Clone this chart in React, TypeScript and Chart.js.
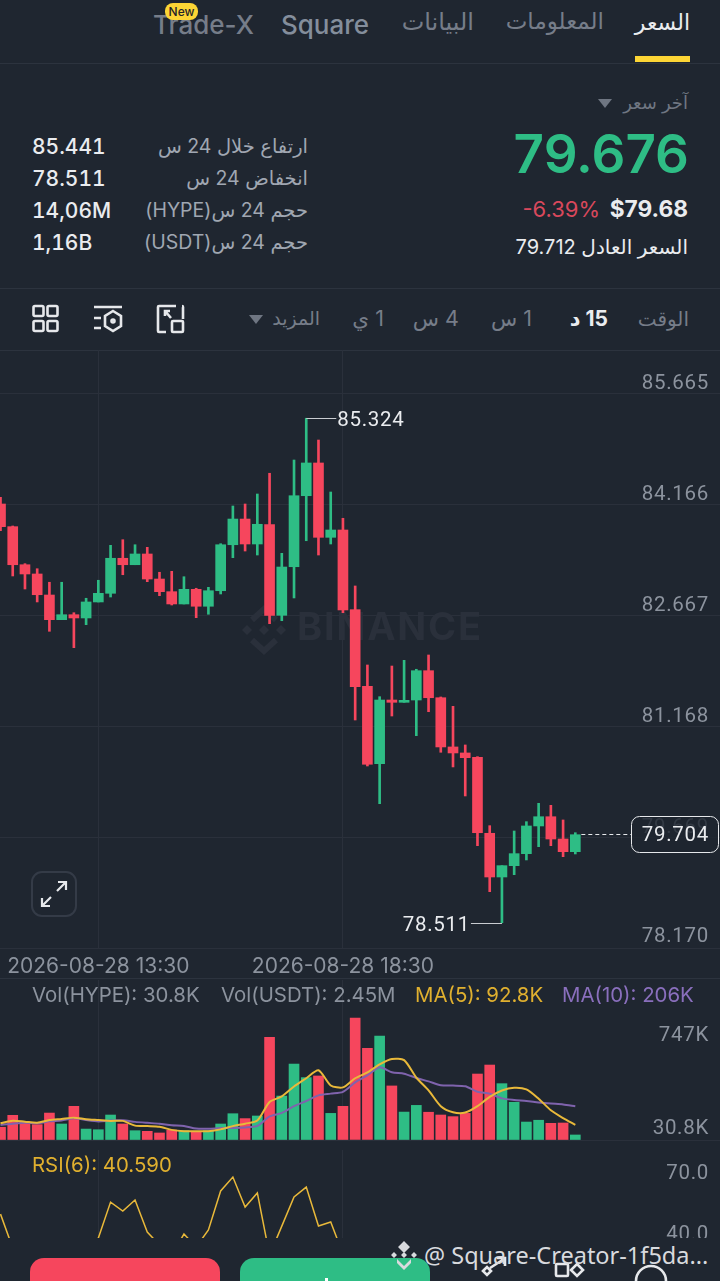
import React, { useEffect, useRef } from "react";
import { Chart, registerables } from "chart.js";

Chart.register(...registerables);

// ---------- data ----------
const OPENS = [84.166,83.86,83.346,83.221,82.937,82.604,82.671,82.627,82.843,82.96,83.433,83.346,83.491,83.153,82.982,82.816,83.014,82.785,82.995,83.616,83.963,83.626,83.887,82.663,83.319,84.278,84.72,83.716,83.815,82.739,81.704,80.659,81.519,81.488,81.519,81.915,81.55,80.885,80.804,80.745,79.719,79.129,79.282,79.444,79.818,79.943,79.642,79.471];
const CLOSES = [83.86,83.346,83.221,82.941,82.604,82.671,82.627,82.843,82.96,83.433,83.346,83.491,83.153,82.982,82.816,83.014,82.785,82.995,83.616,83.963,83.626,83.892,82.663,83.315,84.278,84.72,83.716,83.815,82.735,81.699,80.651,81.519,81.488,81.515,81.915,81.55,80.885,80.804,80.74,79.727,79.129,79.282,79.444,79.818,79.943,79.642,79.471,79.7];
const HIGHS = [84.257,83.869,83.36,83.292,83.109,83.109,82.698,82.893,83.136,83.608,83.684,83.616,83.581,83.244,83.257,83.184,83.028,83.041,83.63,84.139,84.166,84.301,84.581,83.5,84.76,85.324,85.03,84.328,83.973,83.059,81.992,81.564,81.978,82.055,81.934,82.127,81.56,81.434,80.912,80.754,79.822,79.282,79.75,79.876,80.124,80.097,79.899,79.727];
const LOWS = [83.805,83.194,83.018,82.843,82.447,82.604,82.226,82.536,82.843,82.91,83.211,83.346,83.117,82.928,82.802,82.816,82.631,82.677,82.951,83.441,83.531,83.477,82.55,82.59,82.897,83.67,83.477,83.626,82.698,81.249,80.628,80.119,81.303,81.488,81.037,81.361,80.813,80.615,80.223,79.552,78.931,78.511,79.16,79.359,79.538,79.552,79.403,79.44];
const VOLUMES = [78,151,112,94,165,98,206,67,63,153,98,57,53,43,61,57,51,57,98,161,131,147,629,269,465,382,392,163,206,747,561,637,331,171,212,170,153,143,163,404,459,345,231,110,121,102,104,30.8];
const MA5 = [102,118,112,106,122,129,137,127,122,117,117,88,85,81,62,54,53,54,65,85,100,119,233,267,328,378,427,334,322,378,414,463,496,489,382,304,207,170,168,207,264,303,320,310,253,182,134,92.8];
const MA10 = [92,100,106,102,114,120,133,122,114,119,121,111,105,100,90,86,70,69,73,74,77,86,144,166,207,239,273,284,295,353,396,445,415,406,380,359,335,333,329,295,284,255,245,239,230,223,218,206];
const RSI = [55.2,38.5,34,32,30,36,33,38,43.4,61.1,56.7,62.1,46.4,40,35,45.4,39,47.4,66.6,73.4,58.7,65.6,35,49.3,63.6,68.5,49.3,51.3,35.6,28,24,33,34,35,36,35,30,29,28,22,20,26,30,36,40,37,35,40.59];
const PRICE_TICKS = [85.665, 84.166, 82.667, 81.168, 79.669];
const PRICE_BOTTOM_TICK = [78.17];
const TIME_TICK_INDEX = [8, 28];
const TIME_TICK_LABELS = ["2026-08-28 13:30", "2026-08-28 18:30"];
const VOL_TOP_TICK = [747];
const VOL_BOTTOM_TICKS = [0, 30.8];
const RSI_TICKS = [70, 40];
const LAST_PRICE = 79.704;

// ---------- style ----------
const BG = "#1f2630";
const GRID = "#2a303b";
const GREEN = "#2ebd85";
const RED = "#f6465d";
const WHITE = "#eaecef";
const YELLOW = "#e9b93a";
const PURPLE = "#7f63ad";
const FONT = 'Inter, "Noto Sans", "DejaVu Sans", sans-serif';

const XMIN = -0.041;
const XMAX = 58.83;
const idx = OPENS.map((_, i) => i);
const colors = idx.map((i) => (CLOSES[i] >= OPENS[i] ? GREEN : RED));

function spaced(scale: any, spacing: string) {
  if (scale.__spaced) return;
  scale.__spaced = true;
  const orig = scale.drawLabels;
  scale.drawLabels = function (area: any) {
    const ctx = this.ctx;
    ctx.save();
    ctx.letterSpacing = spacing;
    orig.call(this, area);
    ctx.restore();
  };
}

function xScale(showLabels: boolean) {
  return {
    type: "linear",
    min: XMIN,
    max: XMAX,
    offset: false,
    afterBuildTicks: (s: any) => {
      s.ticks = TIME_TICK_INDEX.map((value) => ({ value }));
    },
    afterFit: (s: any) => {
      s.height = showLabels ? 32 : 0;
      s.paddingLeft = 0;
      s.paddingRight = 0;
    },
    grid: { color: GRID, lineWidth: 1, drawTicks: false, offset: false },
    border: { display: false },
    ticks: {
      display: showLabels,
      autoSkip: false,
      maxRotation: 0,
      padding: 6,
      color: "#8c939e",
      font: { family: "Inter", size: 21 },
      callback: (v: number) => TIME_TICK_LABELS[TIME_TICK_INDEX.indexOf(v)] ?? "",
    },
  };
}

function yAxis(min: number, max: number, ticks: number[], labelOffset: number, grid: boolean, fmt: (v: number) => string) {
  return {
    type: "linear",
    position: "right",
    min,
    max,
    afterBuildTicks: (s: any) => {
      s.ticks = ticks.map((value) => ({ value }));
    },
    afterFit: (s: any) => {
      s.width = 0;
      s.paddingTop = 0;
      s.paddingBottom = 0;
      spaced(s, "0.7px");
    },
    grid: { color: (c: any) => (grid && c.tick && c.tick.value !== 30.8 ? GRID : "rgba(0,0,0,0)"), drawTicks: false },
    border: { display: false },
    ticks: { mirror: true, padding: -11, labelOffset, color: "#8c939e", font: { family: "Roboto", size: 20.5 }, callback: fmt },
  };
}

const baseOptions = {
  animation: false,
  responsive: false,
  layout: { padding: 0, autoPadding: false },
  plugins: { legend: { display: false }, tooltip: { enabled: false } },
  events: [],
};

const watermark = {
  id: "watermark",
  beforeDatasetsDraw(chart: any) {
    const { ctx } = chart;
    ctx.save();
    ctx.fillStyle = "#2a303b";
    const diamond = (cx: number, cy: number, r: number) => {
      ctx.beginPath();
      ctx.moveTo(cx, cy - r);
      ctx.lineTo(cx + r, cy);
      ctx.lineTo(cx, cy + r);
      ctx.lineTo(cx - r, cy);
      ctx.closePath();
      ctx.fill();
    };
    const cy = 628 - 350 + 2;
    diamond(264, cy, 5);
    diamond(247, cy, 5);
    diamond(281, cy, 5);
    ctx.lineWidth = 6;
    ctx.strokeStyle = "#2a303b";
    ctx.beginPath();
    ctx.moveTo(252, cy - 10);
    ctx.lineTo(264, cy - 21);
    ctx.lineTo(276, cy - 10);
    ctx.moveTo(252, cy + 10);
    ctx.lineTo(264, cy + 21);
    ctx.lineTo(276, cy + 10);
    ctx.stroke();
    ctx.font = "bold 38px Inter, sans-serif";
    ctx.letterSpacing = "1.8px";
    ctx.textBaseline = "middle";
    ctx.textAlign = "left";
    ctx.fillText("BINANCE", 297, cy - 1);
    ctx.restore();
  },
};

const annotations = {
  id: "annotations",
  afterDatasetsDraw(chart: any) {
    const { ctx, scales } = chart;
    const hi = HIGHS.indexOf(Math.max(...HIGHS));
    const lo = LOWS.indexOf(Math.min(...LOWS));
    ctx.save();
    ctx.font = "20.5px Roboto, sans-serif";
    ctx.letterSpacing = "0.7px";
    ctx.textBaseline = "middle";
    ctx.fillStyle = WHITE;
    ctx.strokeStyle = "#c9ccd1";
    ctx.lineWidth = 1;
    const hx = scales.x.getPixelForValue(hi);
    const hy = Math.round(scales.y.getPixelForValue(HIGHS[hi])) + 0.5;
    ctx.beginPath();
    ctx.moveTo(hx, hy);
    ctx.lineTo(hx + 30, hy);
    ctx.stroke();
    ctx.textAlign = "left";
    ctx.fillText(HIGHS[hi].toFixed(3), hx + 31, hy + 2);
    const lx = scales.x.getPixelForValue(lo);
    const ly = Math.round(scales.y.getPixelForValue(LOWS[lo])) + 0.5;
    ctx.beginPath();
    ctx.moveTo(lx, ly);
    ctx.lineTo(lx - 31, ly);
    ctx.stroke();
    ctx.textAlign = "right";
    ctx.fillText(LOWS[lo].toFixed(3), lx - 32, ly + 2);
    // last price
    const py = Math.round(scales.y.getPixelForValue(LAST_PRICE)) + 0.5;
    ctx.strokeStyle = "#e6e8eb";
    ctx.setLineDash([4, 3]);
    ctx.beginPath();
    ctx.moveTo(scales.x.getPixelForValue(47) + 6, py);
    ctx.lineTo(631, py);
    ctx.stroke();
    ctx.setLineDash([]);
    ctx.beginPath();
    ctx.roundRect(631.5, py - 18, 87, 36, 8);
    ctx.fillStyle = "rgba(31,38,48,0.82)";
    ctx.fill();
    ctx.stroke();
    ctx.fillStyle = WHITE;
    ctx.textAlign = "right";
    ctx.fillText(LAST_PRICE.toFixed(3), 709, py + 1);
    ctx.restore();
  },
};

function useChart(build: (c: HTMLCanvasElement) => Chart) {
  const ref = useRef<HTMLCanvasElement>(null);
  useEffect(() => {
    const c = build(ref.current!);
    return () => c.destroy();
  }, []);
  return ref;
}

const Txt = ({ x, y, r, size, color = "#848e9c", w, children, rtl, ff, tn }: any) => (
  <div
    dir={rtl ? "rtl" : "ltr"}
    style={{
      position: "absolute",
      top: y,
      [r ? "right" : "left"]: r ? 720 - x : x,
      transform: "translateY(-50%)",
      fontSize: size,
      color,
      fontWeight: w ?? 400,
      whiteSpace: "nowrap",
      lineHeight: 1.2,
      fontFamily: ff ?? FONT,
      fontVariantNumeric: tn ? "tabular-nums" : "normal",
    }}
  >
    {children}
  </div>
);

const Line = ({ y }: { y: number }) => <div style={{ position: "absolute", left: 0, top: y, width: 720, height: 1, background: "#2c333e" }} />;
const Tri = ({ x, y }: { x: number; y: number }) => (
  <div style={{ position: "absolute", left: x, top: y, width: 0, height: 0, borderLeft: "7px solid transparent", borderRight: "7px solid transparent", borderTop: "9px solid #6f7682" }} />
);

export default function App() {
  const priceRef = useChart(
    (c) =>
      new Chart(c, {
        type: "bar",
        plugins: [watermark, annotations],
        data: {
          datasets: [
            { data: idx.map((i) => ({ x: i, y: [OPENS[i], CLOSES[i]] })), backgroundColor: colors, barThickness: 10, grouped: false, order: 1 },
            { data: idx.map((i) => ({ x: i, y: [LOWS[i], HIGHS[i]] })), backgroundColor: colors, barThickness: 2, grouped: false, order: 2 },
          ],
        },
        options: {
          ...baseOptions,
          scales: {
            x: xScale(true),
            y: yAxis(78.17, 86.2457, PRICE_TICKS, -9, true, (v) => v.toFixed(3)),
            y2: yAxis(78.17, 86.2457, PRICE_BOTTOM_TICK, -11, true, (v) => v.toFixed(3)),
          },
        },
      } as any)
  );
  const volRef = useChart(
    (c) =>
      new Chart(c, {
        type: "bar",
        data: {
          datasets: [
            { type: "line", data: idx.map((i) => ({ x: i, y: MA10[i] })), borderColor: PURPLE, borderWidth: 2, pointRadius: 0, tension: 0.25, order: 1 },
            { type: "line", data: idx.map((i) => ({ x: i, y: MA5[i] })), borderColor: YELLOW, borderWidth: 2, pointRadius: 0, tension: 0.25, order: 0 },
            { data: idx.map((i) => ({ x: i, y: VOLUMES[i] })), backgroundColor: colors, barThickness: 10, grouped: false, order: 2 },
          ],
        },
        options: {
          ...baseOptions,
          layout: { padding: { bottom: 2 }, autoPadding: false },
          scales: {
            x: xScale(false),
            y: yAxis(0, 979.7, VOL_BOTTOM_TICKS, -6, true, (v) => (v === 0 ? "" : v + "K")),
            y2: yAxis(0, 979.7, VOL_TOP_TICK, 18, false, (v) => v + "K"),
          },
        },
      } as any)
  );
  const rsiRef = useChart(
    (c) =>
      new Chart(c, {
        type: "line",
        data: {
          datasets: [{ data: idx.map((i) => ({ x: i, y: RSI[i] })), borderColor: YELLOW, borderWidth: 1.5, pointRadius: 0, tension: 0 }],
        },
        options: {
          ...baseOptions,
          scales: {
            x: xScale(false),
            y: yAxis(32.62, 86.72, RSI_TICKS, -10, false, (v) => v.toFixed(1)),
          },
        },
      } as any)
  );

  const cv = (top: number): React.CSSProperties => ({ position: "absolute", left: 0, top, display: "block" });

  return (
    <div style={{ position: "absolute", left: 0, top: 0, width: 720, height: 1281, background: BG, overflow: "hidden" }}>
      {/* Tabs */}
      <Txt x={690} y={22} r rtl size={22} color="#eaecef" w={500}>السعر</Txt>
      <div style={{ position: "absolute", left: 635, top: 56, width: 55, height: 6, background: "#fcd535" }} />
      <Txt x={604} y={22} r rtl size={23} color="#767d89">المعلومات</Txt>
      <Txt x={474} y={22} r rtl size={24} color="#767d89">البيانات</Txt>
      <Txt x={281} y={25} size={26} color="#848e9c" w={500}>Square</Txt>
      <Txt x={153} y={25} size={26} color="#767d89" w={500}>Trade-X</Txt>
      <div style={{ position: "absolute", left: 165, top: 3, width: 33, height: 17, borderRadius: 8, background: "#fcd535", color: "#1e2329", fontSize: 12, fontWeight: 500, fontFamily: FONT, textAlign: "center", lineHeight: "17px" }}>New</div>
      <Line y={63} />

      {/* Price block */}
      <Txt x={688} y={103} r rtl size={18} color="#6f7682">آخر سعر</Txt>
      <Tri x={598} y={99} />
      <Txt x={689} y={155} r size={53} color={GREEN} w={600}>79.676</Txt>
      <Txt x={688} y={209} r size={22.7} color={WHITE} w={700}>$79.68</Txt>
      <Txt x={600} y={209} r size={22} color="#d9485c">-6.39%</Txt>
      <Txt x={688} y={247} r rtl size={20} color={WHITE}>السعر العادل 79.712</Txt>

      {/* Stats */}
      <Txt x={308} y={147} r rtl size={19.5} color="#a0a7b2">ارتفاع خلال 24 س</Txt>
      <Txt x={308} y={179} r rtl size={19.5} color="#a0a7b2">انخفاض 24 س</Txt>
      <Txt x={308} y={211} r rtl size={19.5} color="#a0a7b2">حجم 24 س(HYPE)</Txt>
      <Txt x={308} y={243} r rtl size={19.5} color="#a0a7b2">حجم 24 س(USDT)</Txt>
      <Txt x={32} y={147} size={21} color={WHITE} w={500} tn>85.441</Txt>
      <Txt x={32} y={179} size={21} color={WHITE} w={500} tn>78.511</Txt>
      <Txt x={32} y={211} size={21} color={WHITE} w={500} tn>14,06M</Txt>
      <Txt x={32} y={243} size={21} color={WHITE} w={500} tn>1,16B</Txt>
      <Line y={288} />

      {/* Toolbar */}
      <Txt x={689} y={319} r rtl size={20} color="#767d89">الوقت</Txt>
      <Txt x={608} y={319} r rtl size={21} color={WHITE} w={700}>15 د</Txt>
      <Txt x={532} y={319} r rtl size={21.5} color="#767d89">1 س</Txt>
      <Txt x={459} y={319} r rtl size={21.5} color="#767d89">4 س</Txt>
      <Txt x={384} y={319} r rtl size={21.5} color="#767d89">1 ي</Txt>
      <Txt x={320} y={319} r rtl size={19} color="#767d89">المزيد</Txt>
      <Tri x={249} y={315} />
      <svg style={{ position: "absolute", left: 0, top: 295 }} width={200} height={50} fill="none" stroke="#e6e8eb" strokeWidth={2.6}>
        <rect x={33.5} y={11} width={10} height={10} rx={1.5} />
        <rect x={47.5} y={11} width={10} height={10} rx={1.5} />
        <rect x={33.5} y={26} width={10} height={10} rx={1.5} />
        <rect x={47.5} y={26} width={10} height={10} rx={1.5} />
        <path d="M94 12h28M94 23h7M94 33h7M113 16l8 5v10l-8 5-8-5V21z" />
        <circle cx={113} cy={26} r={1.5} />
        <path d="M176 11h-17a1 1 0 0 0-1 1v24a1 1 0 0 0 1 1h7M182 11a1 1 0 0 1 1 1v12M170 16l-5 0 0 5M171 23l-6-7" />
        <rect x={172} y={26} width={11} height={11} rx={1} />
      </svg>
      <Line y={350} />

      {/* Price chart */}
      <canvas ref={priceRef} width={720} height={630} style={cv(350)} />
      <svg style={{ position: "absolute", left: 31, top: 871 }} width={46} height={46} fill="none">
        <rect x={1} y={1} width={44} height={44} rx={10} stroke="#343b47" strokeWidth={2} />
        <path d="M27 11h8v8M35 11L26 20M11 27v8h8M11 35l9-9" stroke="#e6e8eb" strokeWidth={2.2} />
      </svg>
      <Line y={978} />

      {/* Volume */}
      <canvas ref={volRef} width={720} height={162} style={cv(980)} />
      <Txt x={32} y={995} size={20.4} color="#8c939e">Vol(HYPE): 30.8K</Txt>
      <Txt x={221} y={995} size={20.4} color="#8c939e">Vol(USDT): 2.45M</Txt>
      <Txt x={415} y={995} size={20.4} color="#e0b02f">MA(5): 92.8K</Txt>
      <Txt x={562} y={995} size={20.4} color="#8a6fbd">MA(10): 206K</Txt>

      {/* RSI */}
      <canvas ref={rsiRef} width={720} height={110} style={cv(1150)} />
      <Txt x={32} y={1165} size={20.4} color="#e0b02f">RSI(6): 40.590</Txt>

      {/* Bottom bar */}
      <div style={{ position: "absolute", left: 0, top: 1238, width: 720, height: 43, background: BG }} />
      <div style={{ position: "absolute", left: 30, top: 1258, width: 190, height: 40, borderRadius: 14, background: RED }} />
      <div style={{ position: "absolute", left: 240, top: 1258, width: 190, height: 40, borderRadius: 14, background: GREEN }} />
      <div style={{ position: "absolute", left: 325, top: 1278, width: 3, height: 3, background: "#fff" }} />
      <svg style={{ position: "absolute", left: 0, top: 1238 }} width={720} height={43} fill="none" stroke="#e6e8eb" strokeWidth={2.6}>
        <path d="M483 33l4-4 4 4-4 4zM490 30l14-9M497 20h8v8" />
        <rect x={556} y={26} width={12} height={12} rx={1} />
        <path d="M577 26l6 6-6 6-6-6z" />
        <circle cx={651} cy={43} r={15} />
      </svg>
      <svg style={{ position: "absolute", left: 390, top: 1241 }} width={28} height={30} fill="#d8dade">
        <path d="M14 0l6 6-6 6-6-6zM4 11l3 3-3 3-3-3zM24 11l3 3-3 3-3-3zM14 11l3 3-3 3-3-3zM7 18l7 7 7-7 0 4-7 7-7-7z" />
      </svg>
      <Txt x={424} y={1255} size={23.5} color="#d8dade" ff='"Noto Sans", sans-serif'>@ Square-Creator-1f5da...</Txt>
    </div>
  );
}
